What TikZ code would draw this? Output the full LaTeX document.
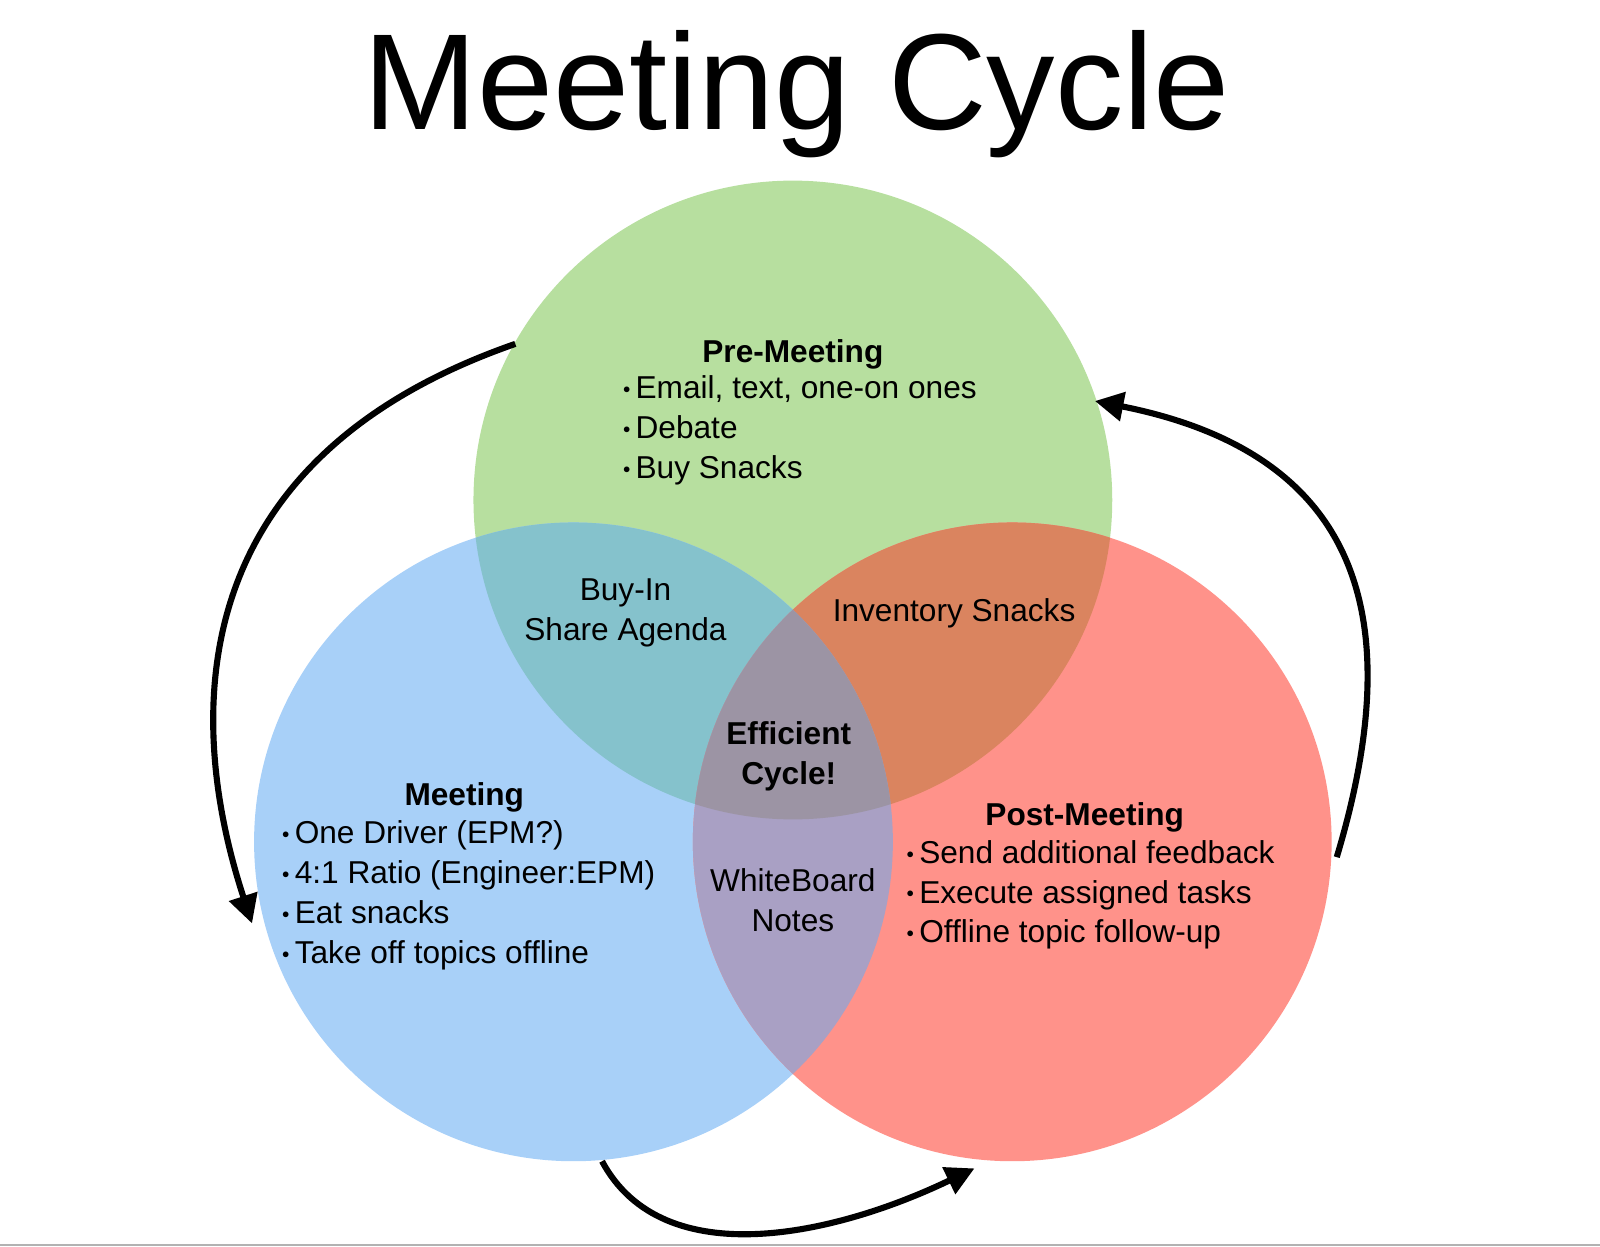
\documentclass[tikz,border=0pt]{standalone}
\usepackage{fontspec}
\setmainfont{Liberation Sans}
\usetikzlibrary{arrows.meta}
\definecolor{cg}{RGB}{183,223,159}
\definecolor{cb}{RGB}{168,208,248}
\definecolor{cr}{RGB}{255,146,138}
\definecolor{cgb}{RGB}{133,194,204}
\definecolor{cgr}{RGB}{218,132,95}
\definecolor{cbr}{RGB}{169,160,196}
\definecolor{call}{RGB}{156,148,164}
\tikzset{
 txt/.style={font=\fontsize{31}{39}\selectfont,align=left,anchor=north west},
 ctr/.style={font=\fontsize{31}{39}\selectfont,align=center},
 hd/.style={font=\fontsize{31}{39}\selectfont\bfseries,align=center},
 arr/.style={line width=6pt,-{Triangle[length=28pt,width=28pt]}}}
\newcommand{\bu}{{\fontsize{14}{14}\selectfont\raisebox{5pt}{$\bullet$}}\,}
\begin{document}
\begin{tikzpicture}[x=1pt,y=-1pt]
\useasboundingbox (0,0) rectangle (1568,1222);
\draw[gray!60,line width=1.5pt] (0,1220) -- (1568,1220);
\node[font=\fontsize{134}{134}\selectfont] (title) at (781,92) {Meeting Cycle};
\def\G{(777,490) circle (313)}
\def\B{(562,825) circle (313)}
\def\R{(992,825) circle (313)}
\fill[cg] \G; \fill[cb] \B; \fill[cr] \R;
\begin{scope}\clip \G; \fill[cgb] \B; \fill[cgr] \R; \end{scope}
\begin{scope}\clip \B; \fill[cbr] \R; \end{scope}
\begin{scope}\clip \G; \clip \B; \fill[call] \R; \end{scope}
\node[hd] (pre) at (777,347) {Pre-Meeting};
\node[txt] (prel) at (607,365) {\bu Email, text, one-on ones\\\bu Debate\\\bu Buy Snacks};
\node[hd] (mt) at (455,781) {Meeting};
\node[txt] (mtl) at (273,801) {\bu One Driver (EPM?)\\\bu 4:1 Ratio (Engineer:EPM)\\\bu Eat snacks\\\bu Take off topics offline};
\node[hd] (post) at (1063,801) {Post-Meeting};
\node[txt] (postl) at (885,820) {\bu Send additional feedback\\\bu Execute assigned tasks\\\bu Offline topic follow-up};
\node[ctr] (bi) at (613,601) {Buy-In\\Share Agenda};
\node[ctr] (inv) at (935,601) {Inventory Snacks};
\node[ctr] (wb) at (777,882) {WhiteBoard\\Notes};
\node[hd] (eff) at (773,741) {Efficient\\Cycle!};
\coordinate (a1) at (505,337); \coordinate (a2) at (247,905);
\draw[arr] (a1) .. controls (180,450) and (180,700) .. (a2);
\coordinate (b1) at (590,1138); \coordinate (b2) at (955,1145);
\draw[arr] (b1) .. controls (650,1250) and (820,1210) .. (b2);
\coordinate (c1) at (1310,840); \coordinate (c2) at (1073,393);
\draw[arr] (c1) .. controls (1370,640) and (1360,450) .. (c2);
\end{tikzpicture}
\end{document}
